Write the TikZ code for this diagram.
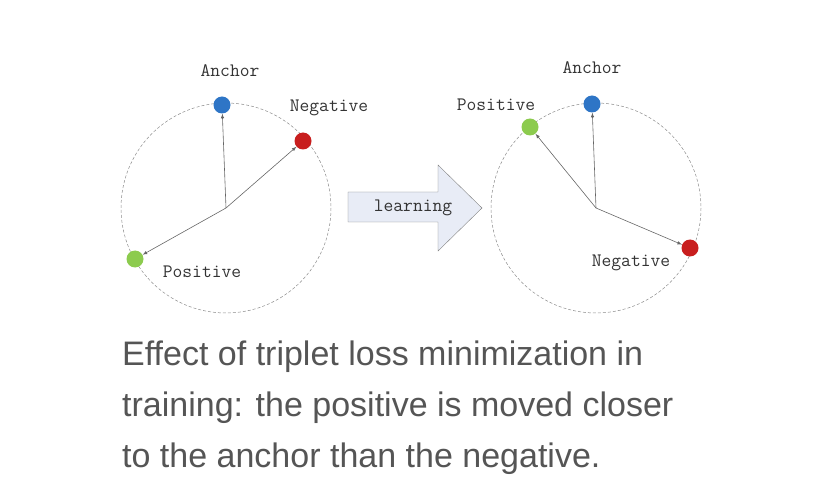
\documentclass[tikz,border=0pt]{standalone}
\usepackage{fontspec}
\setmainfont{Liberation Sans}
\definecolor{anchorblue}{HTML}{2E75C6}
\definecolor{negred}{HTML}{C81E1E}
\definecolor{posgreen}{HTML}{8CCB4E}
\definecolor{captiongray}{HTML}{555555}
\definecolor{arrowfill}{HTML}{E8ECF6}
\begin{document}
\begin{tikzpicture}
  [x=1pt,y=-1pt
  ,orbit/.style={draw=black!45,densely dashed,line width=0.5pt}
  ,spoke/.style={draw=black!60,line width=0.6pt,-latex}
  ,dot/.style={circle,inner sep=0pt,minimum size=17pt}
  ,tag/.style={font=\ttfamily\fontsize{19}{21}\selectfont,text=black!80}
  ]

  \useasboundingbox (0,0) rectangle (814,497);

  % left circle
  \draw[orbit] (226,208) circle (105);
  \coordinate (lc) at (226,208);
  \node[dot,fill=anchorblue] (la) at (222,105) {};
  \node[dot,fill=negred] (ln) at (303,141) {};
  \node[dot,fill=posgreen] (lp) at (135,259) {};
  \draw[spoke] (lc) -- (la);
  \draw[spoke] (lc) -- (ln);
  \draw[spoke] (lc) -- (lp);
  \node[tag] at (230,71) {Anchor};
  \node[tag] at (329,108) {Negative};
  \node[tag] at (202,272) {Positive};

  % learning arrow
  \path[draw=black!50,fill=arrowfill]
    (348,192) -- (438,192) -- (438,165) -- (482,208) -- (438,251)
    -- (438,222) -- (348,222) -- cycle;
  \node[tag] (learn) at (413,208) {learning};

  % right circle
  \draw[orbit] (596,208) circle (105);
  \coordinate (rc) at (596,208);
  \node[dot,fill=anchorblue] (ra) at (592,104) {};
  \node[dot,fill=posgreen] (rp) at (530,127) {};
  \node[dot,fill=negred] (rn) at (690,248) {};
  \draw[spoke] (rc) -- (ra);
  \draw[spoke] (rc) -- (rp);
  \draw[spoke] (rc) -- (rn);
  \node[tag] at (592,68) {Anchor};
  \node[tag] at (496,105) {Positive};
  \node[tag] at (631,263) {Negative};

  % caption
  \node[anchor=west,text=captiongray,font=\fontsize{34}{51}\selectfont,
    align=left,inner sep=0pt] at (122,408)
    {Effect of triplet loss minimization in\\
     training: the positive is moved closer\\
     to the anchor than the negative.};
\end{tikzpicture}
\end{document}
